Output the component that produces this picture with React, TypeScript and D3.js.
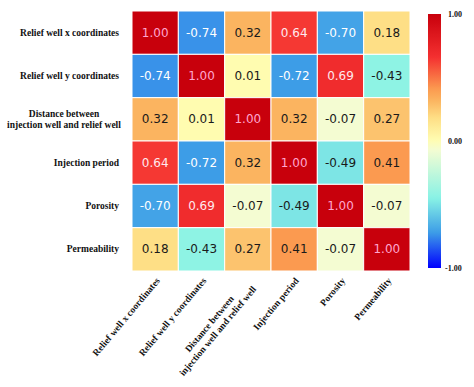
import React, { useEffect, useRef } from 'react';
import * as d3 from 'd3';

// variable names, one entry per row / column (multi-line labels split on '\n')
const variables: string[] = [
  'Relief well x coordinates',
  'Relief well y coordinates',
  'Distance between\ninjection well and relief well',
  'Injection period',
  'Porosity',
  'Permeability',
];

// correlation matrix
const row0 = [1.0, -0.74, 0.32, 0.64, -0.7, 0.18];
const row1 = [-0.74, 1.0, 0.01, -0.72, 0.69, -0.43];
const row2 = [0.32, 0.01, 1.0, 0.32, -0.07, 0.27];
const row3 = [0.64, -0.72, 0.32, 1.0, -0.49, 0.41];
const row4 = [-0.7, 0.69, -0.07, -0.49, 1.0, -0.07];
const row5 = [0.18, -0.43, 0.27, 0.41, -0.07, 1.0];
const matrix: number[][] = [row0, row1, row2, row3, row4, row5];

// colour map stops
const colorStops = [-1, -0.72, -0.45, -0.07, 0.01, 0.18, 0.32, 0.41, 0.66, 1];
const colorValues = ['#0000ff', '#3d9de7', '#88f2e5', '#f4fcd2', '#fffcb0', '#fedf86', '#fbb460', '#fb9a50', '#f43030', '#c8000c'];

const barTicks = [1, 0, -1];

const W = 474;
const H = 387;

type Cell = { r: number; c: number; v: number };

const App: React.FC = () => {
  const svgRef = useRef<SVGSVGElement | null>(null);

  useEffect(() => {
    const svg = d3.select(svgRef.current);
    svg.selectAll('*').remove();

    const color = d3.scaleLinear<string>()
      .domain(colorStops)
      .range(colorValues)
      .interpolate(d3.interpolateRgb)
      .clamp(true);

    const x = d3.scaleBand<number>().domain(d3.range(variables.length)).range([132, 410]).padding(0);
    const y = d3.scaleBand<number>().domain(d3.range(variables.length)).range([11, 271]).padding(0);

    const cells: Cell[] = [];
    matrix.forEach((row, r) => row.forEach((v, c) => cells.push({ r, c, v })));

    // cells
    const g = svg.append('g');
    g.selectAll('rect.cell')
      .data(cells)
      .join('rect')
      .classed('cell', true)
      .attr('x', d => x(d.c)!)
      .attr('y', d => y(d.r)!)
      .attr('width', x.bandwidth())
      .attr('height', y.bandwidth())
      .attr('fill', d => color(d.v))
      .attr('stroke', '#ffffff')
      .attr('stroke-width', 1);

    // cell values
    g.selectAll('text.val')
      .data(cells)
      .join('text')
      .classed('val', true)
      .attr('x', d => x(d.c)! + x.bandwidth() / 2)
      .attr('y', d => y(d.r)! + y.bandwidth() / 2)
      .attr('text-anchor', 'middle')
      .attr('dominant-baseline', 'central')
      .attr('font-family', '"DejaVu Sans", sans-serif')
      .attr('font-size', 12)
      .attr('fill', d => (d.v > 0.9 ? '#ffa6cf' : d.v > 0.6 ? '#ffe8ee' : d.v < -0.6 ? '#ffffff' : '#1a1a1a'))
      .text(d => d3.format('.2f')(d.v).replace('−', '-'));

    const serif = '"Liberation Serif", "Times New Roman", serif';

    // row labels
    const rowLab = svg.append('g')
      .attr('font-family', serif)
      .attr('font-weight', 'bold')
      .attr('font-size', 9.5)
      .attr('fill', '#111');

    variables.forEach((name, i) => {
      const lines = name.split('\n');
      const cy = y(i)! + y.bandwidth() / 2;
      if (lines.length === 1) {
        rowLab.append('text')
          .attr('x', 119)
          .attr('y', cy)
          .attr('text-anchor', 'end')
          .attr('dominant-baseline', 'central')
          .text(name);
      } else {
        lines.forEach((ln, k) => {
          rowLab.append('text')
            .attr('x', 64)
            .attr('y', cy + (k - (lines.length - 1) / 2) * 11)
            .attr('text-anchor', 'middle')
            .attr('dominant-baseline', 'central')
            .text(ln);
        });
      }
    });

    // column labels, rotated
    const colLab = svg.append('g')
      .attr('font-family', serif)
      .attr('font-weight', 'bold')
      .attr('font-size', 9.5)
      .attr('fill', '#111');

    variables.forEach((name, i) => {
      const lines = name.split('\n');
      const ax = x(i)! + x.bandwidth() / 2 + 3;
      const ay = 279;
      if (lines.length === 1) {
        colLab.append('g')
          .attr('transform', `translate(${ax},${ay}) rotate(-50)`)
          .append('text').attr('x', 0).attr('y', 3).attr('text-anchor', 'end').text(name);
      } else {
        const grp = colLab.append('g').attr('transform', `translate(${ax - 4},${ay + 2}) rotate(-50)`);
        const t = grp.append('text').attr('text-anchor', 'middle');
        const spans = lines.map((ln, k) =>
          t.append('tspan').attr('y', 2 + k * 11).text(ln)
        );
        const widths = spans.map(s => (s.node() as SVGTextContentElement).getComputedTextLength());
        const half = (d3.max(widths) || 0) / 2;
        spans.forEach(s => s.attr('x', -half));
      }
    });

    // colour bar
    const bx = 428;
    const bw = 13;
    const by = d3.scaleLinear().domain([1, -1]).range([14, 268]);
    const defs = svg.append('defs');
    const grad = defs.append('linearGradient')
      .attr('id', 'cbar')
      .attr('x1', 0).attr('y1', 0).attr('x2', 0).attr('y2', 1);
    const samples = d3.range(0, 101).map(k => 1 - k / 50);
    grad.selectAll('stop')
      .data(samples)
      .join('stop')
      .attr('offset', (_d, k) => `${k}%`)
      .attr('stop-color', d => color(d));

    svg.append('rect')
      .attr('x', bx)
      .attr('y', by(1))
      .attr('width', bw)
      .attr('height', by(-1) - by(1))
      .attr('fill', 'url(#cbar)');

    svg.append('g')
      .attr('font-family', serif)
      .attr('font-weight', 'bold')
      .attr('font-size', 8)
      .attr('fill', '#111')
      .selectAll('text')
      .data(barTicks)
      .join('text')
      .attr('x', d => (d < 0 ? 445 : 448))
      .attr('y', d => by(d))
      .attr('dominant-baseline', 'central')
      .text(d => d3.format('.2f')(d).replace('−', '-'));

    return () => {
      svg.selectAll('*').remove();
    };
  }, []);

  return (
    <svg ref={svgRef} width={W} height={H} style={{ position: 'absolute', left: 0, top: 0, background: '#fff' }} />
  );
};

export default App;
